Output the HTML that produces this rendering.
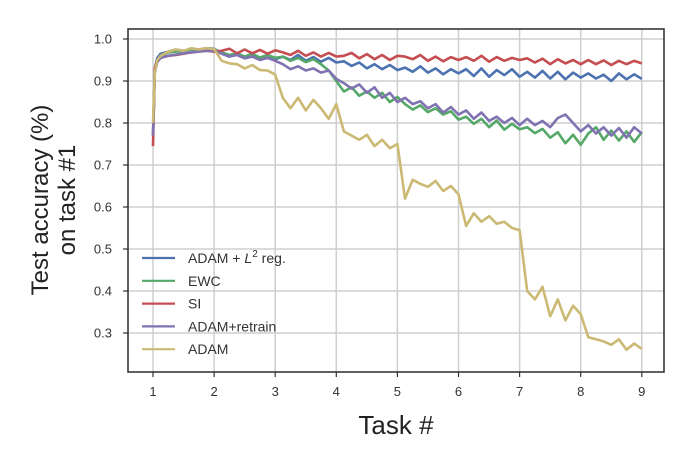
<!DOCTYPE html>
<html><head><meta charset="utf-8"><style>
body{margin:0;background:#fff;}
svg{display:block;font-family:"Liberation Sans",sans-serif;}
</style></head><body>
<svg id="chart" width="697" height="464"></svg>
<script>
const xs=[1,1.03,1.07];
for(let i=1;i<=64;i++)xs.push(1+i*0.125);
const xTicks=[1,2,3,4,5,6,7,8,9];
const yTicks=[0.3,0.4,0.5,0.6,0.7,0.8,0.9,1.0];
const seriesNames=["ADAM + L2 reg.","EWC","SI","ADAM+retrain","ADAM"];
const blueVals=[0.77,0.93,0.955,
.965,.97,.975,.972,.976,.975,.978,.977,
.965,.958,.966,.955,.963,.953,.962,.952,
.958,.95,.962,.948,.957,.946,.955,.944,
.947,.936,.944,.93,.94,.928,.938,.926,
.932,.922,.935,.92,.93,.916,.928,.918,
.928,.912,.93,.91,.926,.914,.928,.91,
.922,.908,.924,.906,.922,.904,.92,.908,
.918,.906,.915,.9,.918,.904,.916,.905];
const greenVals=[0.77,0.925,0.95,
.96,.968,.97,.972,.975,.974,.976,.975,
.968,.962,.966,.958,.965,.956,.962,.955,
.958,.948,.955,.945,.952,.94,.925,.90,
.875,.885,.865,.875,.86,.872,.85,.862,
.845,.832,.842,.826,.835,.82,.828,.808,
.815,.798,.81,.79,.806,.784,.798,.785,
.79,.776,.786,.765,.778,.752,.772,.748,
.775,.79,.76,.782,.758,.78,.755,.778];
const redVals=[0.745,0.93,0.95,
.955,.96,.962,.965,.968,.97,.972,.97,
.972,.977,.966,.975,.966,.974,.965,.973,
.968,.962,.972,.96,.968,.958,.967,.958,
.96,.967,.954,.964,.952,.962,.95,.96,
.958,.952,.962,.948,.958,.947,.957,.95,
.957,.948,.96,.946,.957,.948,.955,.95,
.954,.944,.953,.94,.952,.942,.95,.94,
.95,.94,.949,.938,.948,.94,.948,.942];
const purpleVals=[0.77,0.92,0.945,
.955,.96,.963,.966,.968,.97,.972,.972,
.965,.958,.962,.954,.958,.95,.955,.948,
.94,.928,.935,.925,.93,.92,.925,.905,
.895,.882,.892,.872,.885,.86,.872,.85,
.86,.845,.852,.835,.845,.825,.838,.82,
.83,.81,.825,.805,.815,.8,.812,.795,
.81,.795,.805,.79,.812,.82,.8,.78,
.795,.775,.79,.77,.788,.765,.79,.775];
const adamVals=[0.80,0.92,0.95,
.96,.97,.975,.972,.978,.975,.978,.976,
.948,.942,.94,.93,.938,.926,.925,.915,
.86,.835,.86,.83,.855,.835,.81,.845,
.78,.77,.76,.772,.745,.76,.74,.75,
.62,.665,.655,.648,.662,.638,.65,.63,
.555,.585,.565,.578,.56,.565,.55,.545,
.40,.38,.41,.34,.38,.33,.365,.345,
.29,.285,.28,.272,.285,.26,.275,.262];
const colors=["#4c72b0","#55a868","#c44e52","#8172b2","#ccb974"];
const allVals=[blueVals,greenVals,redVals,purpleVals,adamVals];

const NS="http://www.w3.org/2000/svg";
const svg=document.getElementById('chart');
const L=128,R=664,T=29,B=372;
const xScale=v=>153+(v-1)*61.1;
const yScale=v=>39+(1.0-v)*420;
function mk(tag,attrs,parent){const e=document.createElementNS(NS,tag);for(const k in attrs)e.setAttribute(k,attrs[k]);(parent||svg).appendChild(e);return e;}

const grid=mk('g',{});


xTicks.forEach(t=>{
  const l=mk('line',{x1:xScale(t),x2:xScale(t),y1:T,y2:B,stroke:"#cfcfcf","stroke-width":1.5},grid);
  
  
  const tk=mk('line',{x1:xScale(t),x2:xScale(t),y1:B,y2:B+5,stroke:"#333","stroke-width":1.2});
  
  
  const tx=mk('text',{x:xScale(t),y:B+24,"text-anchor":"middle","font-size":13,fill:"#333"});
  tx.textContent=t;
  
  
});
yTicks.forEach(t=>{
  const l=mk('line',{x1:L,x2:R,y1:yScale(t),y2:yScale(t),stroke:"#cfcfcf","stroke-width":1.5},grid);
  
  
  const tk=mk('line',{x1:L-5,x2:L,y1:yScale(t),y2:yScale(t),stroke:"#333","stroke-width":1.2});
  
  
  const tx=mk('text',{x:L-16,y:yScale(t)+4.5,"text-anchor":"end","font-size":13,fill:"#333"});
  tx.textContent=t.toFixed(1);
  
  
});

allVals.forEach((vals,si)=>{
  const d=vals.map((v,i)=>(i?'L':'M')+xScale(xs[i]).toFixed(1)+','+yScale(v).toFixed(1)).join(' ');
  const p=mk('path',{d:d,fill:"none",stroke:colors[si],"stroke-width":2.6,"stroke-linejoin":"round"});
  
  
});

const frame=mk('rect',{x:L,y:T,width:R-L,height:B-T,fill:"none",stroke:"#2a2a2a","stroke-width":1.5});



const lg=mk('g',{});


seriesNames.forEach((n,i)=>{
  const y=258+i*22.8;
  const ln=mk('line',{x1:142,x2:175,y1:y,y2:y,stroke:colors[i],"stroke-width":2.2},lg);
  
  
  const tx=mk('text',{x:188,y:y+5,"font-size":14,fill:"#333"},lg);
  if(i===0){
    tx.innerHTML='ADAM + <tspan font-style="italic">L</tspan><tspan dy="-6" font-size="10">2</tspan><tspan dy="6"> reg.</tspan>';
  } else tx.textContent=n;
  
  
});

const xl=mk('text',{x:396,y:434,"text-anchor":"middle","font-size":26,fill:"#222"});
xl.textContent="Task #";


const yl=mk('text',{transform:"translate(48,200) rotate(-90)","text-anchor":"middle","font-size":24,fill:"#222"});
yl.innerHTML='<tspan x="0" dy="0">Test accuracy (%)</tspan><tspan x="0" dy="27">on task #1</tspan>';


</script>
</body></html>
